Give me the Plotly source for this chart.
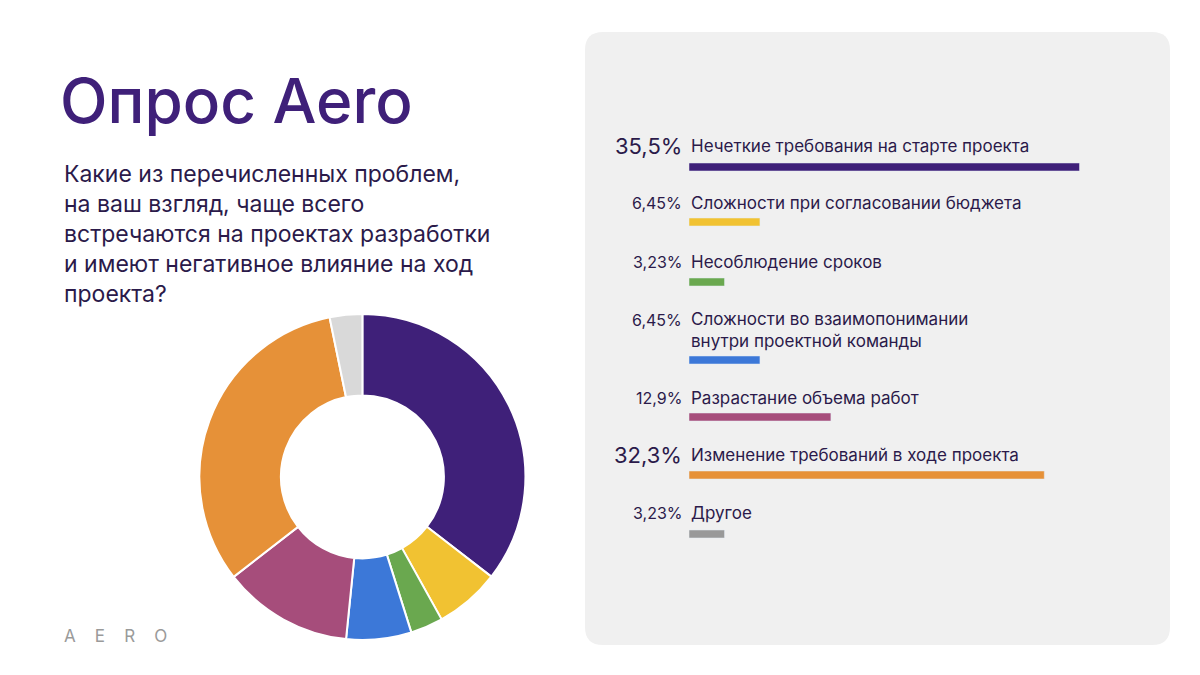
import plotly.graph_objects as go

labels = ["Нечеткие требования на старте проекта",
          "Сложности при согласовании бюджета",
          "Несоблюдение сроков",
          "Сложности во взаимопонимании<br>внутри проектной команды",
          "Разрастание объема работ",
          "Изменение требований в ходе проекта",
          "Другое"]
values = [35.5, 6.45, 3.23, 6.45, 12.9, 32.3, 3.23]
pct_text = ["35,5%", "6,45%", "3,23%", "6,45%", "12,9%", "32,3%", "3,23%"]
colors = ["#3f2079", "#f1c232", "#6aa84f", "#3c78d8", "#a64d7b", "#e69138", "#d9d9d9"]
bar_colors = colors[:6] + ["#999999"]
# vertical pixel positions of bars / labels
bar_y = [167, 222, 282, 360, 417, 475, 534]
lab_y = [146, 203, 262, 330, 398, 455, 513]

fig = go.Figure()
fig.add_trace(go.Pie(values=values, labels=labels, hole=0.5, sort=False,
                     direction="clockwise", rotation=0, textinfo="none",
                     marker=dict(colors=colors, line=dict(color="white", width=2)),
                     domain=dict(x=[0.166, 0.438], y=[0.052, 0.535]),
                     showlegend=False, hoverinfo="label+percent"))
fig.add_trace(go.Bar(x=values, y=bar_y, orientation="h", width=8,
                     marker=dict(color=bar_colors), xaxis="x", yaxis="y",
                     showlegend=False))

for lab, pct, y, v in zip(labels, pct_text, lab_y, values):
    big = v > 30
    fig.add_annotation(x=0, y=y, xref="x", yref="y", text=lab, showarrow=False,
                       xanchor="left", yanchor="middle", align="left",
                       font=dict(size=17, color="#2b1a4a"))
    fig.add_annotation(x=0, y=y - 10 if "<br>" in lab else y,
                       xref="x", yref="y", text=pct, showarrow=False,
                       xanchor="right", xshift=-5, yanchor="middle",
                       font=dict(size=22 if big else 16, color="#2b1a4a"))

x0, x1, y0, y1, r = 585, 1170, 32, 645, 18
fig.add_shape(type="path", xref="paper", yref="paper",
              path=(f"M {(x0+r)/1200} {1-y0/675} L {(x1-r)/1200} {1-y0/675} "
                    f"Q {x1/1200} {1-y0/675} {x1/1200} {1-(y0+r)/675} "
                    f"L {x1/1200} {1-(y1-r)/675} Q {x1/1200} {1-y1/675} {(x1-r)/1200} {1-y1/675} "
                    f"L {(x0+r)/1200} {1-y1/675} Q {x0/1200} {1-y1/675} {x0/1200} {1-(y1-r)/675} "
                    f"L {x0/1200} {1-(y0+r)/675} Q {x0/1200} {1-y0/675} {(x0+r)/1200} {1-y0/675} Z"),
              fillcolor="#f0f0f0", line_width=0, layer="below")

fig.add_annotation(x=58/1200, y=1-100/675, xref="paper", yref="paper",
                   text="Опрос Aero", showarrow=False, xanchor="left", yanchor="middle",
                   font=dict(size=62, color="#3f2079", family="Inter", weight=500))
fig.add_annotation(x=62/1200, y=1-158/675, xref="paper", yref="paper",
                   text="Какие из перечисленных проблем,<br>на ваш взгляд, чаще всего<br>"
                        "встречаются на проектах разработки<br>и имеют негативное влияние на ход<br>проекта?",
                   showarrow=False, xanchor="left", yanchor="top", align="left",
                   font=dict(size=23, color="#2b1a4a"))
fig.add_annotation(x=62/1200, y=1-636/675, xref="paper", yref="paper",
                   text="A    E    R    O", showarrow=False, xanchor="left", yanchor="middle",
                   font=dict(size=17, color="#9a9a9a"))

fig.update_layout(
    width=1200, height=675, margin=dict(l=0, r=0, t=0, b=0),
    paper_bgcolor="white", plot_bgcolor="rgba(0,0,0,0)",
    font=dict(family="Inter, Roboto, sans-serif"),
    xaxis=dict(domain=[689/1200, 1160/1200], range=[0, 471/11.0], visible=False,
               fixedrange=True),
    yaxis=dict(domain=[0, 1], range=[675, 0], visible=False, fixedrange=True),
)
fig.write_html("out.html", config={"displayModeBar": False},
               post_script="document.body.style.margin='0';")
